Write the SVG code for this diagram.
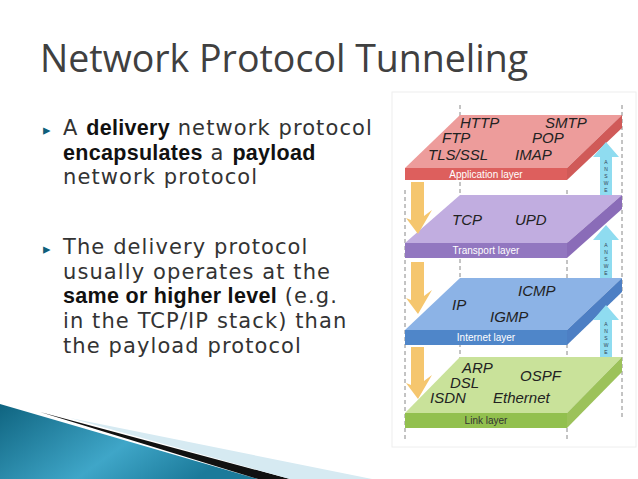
<svg xmlns="http://www.w3.org/2000/svg" width="638" height="479" viewBox="0 0 638 479">
<style>
.t{font-family:"DejaVu Sans","Liberation Sans",sans-serif;font-size:21px;letter-spacing:1.1px;fill:#333}
.b{font-family:"Liberation Sans",sans-serif;font-weight:bold;fill:#111;font-size:21.5px;letter-spacing:0.3px}
.p{font-family:"Liberation Sans",sans-serif;font-style:italic;font-size:15px;fill:#222}
.l{font-family:"Liberation Sans",sans-serif;font-size:10px;fill:#fff;text-anchor:middle}
.d{stroke:#888;stroke-dasharray:4 3;stroke-width:1}
.a{font-family:"Liberation Sans",sans-serif;font-size:5px;fill:#345;text-anchor:middle}
</style>
<defs>
<linearGradient id="sw" x1="0" y1="0" x2="1" y2="0.4"><stop offset="0" stop-color="#0f6480"/><stop offset="0.6" stop-color="#3fa6c8"/><stop offset="1" stop-color="#1b7a9a"/></linearGradient>
</defs>
<rect width="638" height="479" fill="#fff"/>
<text x="40" y="72" font-family="Open Sans, DejaVu Sans, sans-serif" font-size="37.5" fill="#404040">Network Protocol Tunneling</text>
<g id="bullets">
<text x="43" y="135" font-family="DejaVu Sans,sans-serif" font-size="15" fill="#0e5f7a">▸</text>
<text x="43" y="254" font-family="DejaVu Sans,sans-serif" font-size="15" fill="#0e5f7a">▸</text>
<text class="t" x="63" y="135">A <tspan class="b">delivery</tspan> network protocol</text>
<text class="t" x="63" y="160"><tspan class="b">encapsulates</tspan> a <tspan class="b">payload</tspan></text>
<text class="t" x="63" y="184">network protocol</text>
<text class="t" x="63" y="254">The delivery protocol</text>
<text class="t" x="63" y="279">usually operates at the</text>
<text class="t" x="63" y="303"><tspan class="b">same or higher level</tspan> (e.g.</text>
<text class="t" x="63" y="328">in the TCP/IP stack) than</text>
<text class="t" x="63" y="353">the payload protocol</text>
</g>
<g id="swoosh">
<polygon points="0,404 0,479 258,479" fill="url(#sw)"/>
<polygon points="40,412 258,479 290,479" fill="#111"/>
<polygon points="70,418 290,479 372,479" fill="#d6eaf2"/>
</g>
<rect x="392" y="92" width="244" height="355" fill="#fff" stroke="#eee"/>
<g id="stack">
<line class="d" x1="405" y1="190" x2="405" y2="440"/>
<line class="d" x1="460" y1="105" x2="460" y2="420"/>
<line class="d" x1="567" y1="190" x2="567" y2="440"/>
<line class="d" x1="622" y1="105" x2="622" y2="420"/>
<g id="link">
<polygon points="460,357 622,357 567,413 405,413" fill="#c9e29a"/>
<polygon points="567,413 622,357 622,372 567,428" fill="#9cc25a"/>
<rect x="405" y="413" width="162" height="15" fill="#92c04e"/>
<text class="l" x="486" y="424" style="fill:#333">Link layer</text>
<text class="p" x="462" y="373">ARP</text><text class="p" x="450" y="388">DSL</text><text class="p" x="430" y="403">ISDN</text>
<text class="p" x="520" y="381">OSPF</text><text class="p" x="493" y="403">Ethernet</text>
</g>
<g id="internet">
<polygon points="460,278 622,278 567,330 405,330" fill="#8cb3e6"/>
<polygon points="567,330 622,278 622,292 567,345" fill="#4d7fc4"/>
<rect x="405" y="330" width="162" height="15" fill="#4f86c9"/>
<text class="l" x="486" y="341">Internet layer</text>
<text class="p" x="452" y="310">IP</text><text class="p" x="518" y="296">ICMP</text><text class="p" x="490" y="322">IGMP</text>
</g>
<g id="transport">
<polygon points="460,195 622,195 567,243 405,243" fill="#c1ade0"/>
<polygon points="567,243 622,195 622,209 567,258" fill="#8a6cb8"/>
<rect x="405" y="243" width="162" height="15" fill="#9277c0"/>
<text class="l" x="486" y="254">Transport layer</text>
<text class="p" x="452" y="225">TCP</text><text class="p" x="515" y="225">UPD</text>
</g>
<g id="application">
<polygon points="460,115 622,115 567,168 405,168" fill="#ed9c9b"/>
<polygon points="567,168 622,115 622,128 567,180" fill="#d05a58"/>
<rect x="405" y="168" width="162" height="12" fill="#dd5f5d"/>
<text class="l" x="486" y="178">Application layer</text>
<text class="p" x="460" y="128">HTTP</text><text class="p" x="545" y="128">SMTP</text>
<text class="p" x="442" y="143">FTP</text><text class="p" x="532" y="143">POP</text>
<text class="p" x="428" y="160">TLS/SSL</text><text class="p" x="515" y="160">IMAP</text>
</g>
</g>
<g id="connectors">
<polygon points="411,182 424,182 424,216 432,210 418,234 406,218 411,220" fill="#f5c66e"/>
<polygon points="411,262 424,262 424,296 432,290 418,314 406,298 411,300" fill="#f5c66e"/>
<polygon points="411,347 424,347 424,381 432,375 418,399 406,383 411,385" fill="#f5c66e"/>
<polygon points="600,195 612,195 612,157 619,157 606,142 593,157 600,157" fill="#8fdcf0"/>
<polygon points="600,278 612,278 612,240 619,240 606,225 593,240 600,240" fill="#8fdcf0"/>
<polygon points="600,357 612,357 612,320 619,320 606,305 593,320 600,320" fill="#8fdcf0"/>
<text class="a" x="606" y="164">A</text><text class="a" x="606" y="171">N</text><text class="a" x="606" y="178">S</text><text class="a" x="606" y="185">W</text><text class="a" x="606" y="192">E</text>
<text class="a" x="606" y="247">A</text><text class="a" x="606" y="254">N</text><text class="a" x="606" y="261">S</text><text class="a" x="606" y="268">W</text><text class="a" x="606" y="275">E</text>
<text class="a" x="606" y="326">A</text><text class="a" x="606" y="333">N</text><text class="a" x="606" y="340">S</text><text class="a" x="606" y="347">W</text><text class="a" x="606" y="354">E</text>
</g>
</svg>
